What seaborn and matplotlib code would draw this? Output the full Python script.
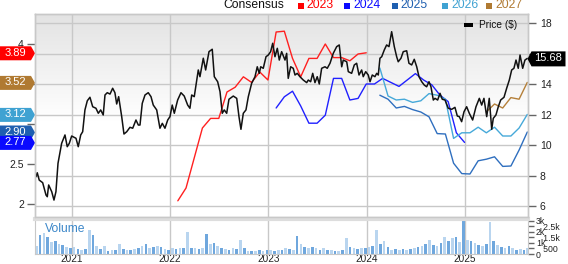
import numpy as np
import pandas as pd
import matplotlib
matplotlib.use("Agg")
import matplotlib.pyplot as plt
import seaborn as sns
from matplotlib.path import Path
from matplotlib.patches import Rectangle
from matplotlib.colors import LinearSegmentedColormap
from matplotlib.transforms import blended_transform_factory

# ---------------- data ----------------
price_t = [2020.637, 2020.650, 2020.670, 2020.705, 2020.739, 2020.752, 2020.766, 2020.797, 2020.820, 2020.840,
           2020.861, 2020.898, 2020.932, 2020.955, 2020.976, 2021.000, 2021.044, 2021.067, 2021.092, 2021.112,
           2021.135, 2021.159, 2021.186, 2021.214, 2021.247, 2021.271, 2021.295, 2021.321, 2021.339, 2021.362,
           2021.390, 2021.417, 2021.440, 2021.458, 2021.478, 2021.509, 2021.532, 2021.560, 2021.593, 2021.621,
           2021.654, 2021.678, 2021.695, 2021.718, 2021.746, 2021.779, 2021.807, 2021.830, 2021.865, 2021.898,
           2021.922, 2021.949, 2021.977, 2022.000, 2022.023, 2022.044, 2022.078, 2022.112, 2022.145, 2022.180,
           2022.203, 2022.221, 2022.247, 2022.272, 2022.288, 2022.305, 2022.339, 2022.363, 2022.397, 2022.430,
           2022.451, 2022.485, 2022.509, 2022.532, 2022.552, 2022.577, 2022.600, 2022.644, 2022.679, 2022.702,
           2022.722, 2022.746, 2022.773, 2022.797, 2022.831, 2022.865, 2022.888, 2022.908, 2022.923, 2022.949,
           2022.977, 2023.000, 2023.024, 2023.045, 2023.068, 2023.092, 2023.112, 2023.136, 2023.170, 2023.187,
           2023.203, 2023.228, 2023.254, 2023.272, 2023.295, 2023.322, 2023.356, 2023.391, 2023.407, 2023.431,
           2023.452, 2023.475, 2023.498, 2023.519, 2023.543, 2023.577, 2023.600, 2023.628, 2023.661, 2023.696,
           2023.722, 2023.747, 2023.763, 2023.798, 2023.814, 2023.848, 2023.875, 2023.899, 2023.923, 2023.950,
           2023.966, 2023.991, 2024.017, 2024.035, 2024.058, 2024.085, 2024.103, 2024.119, 2024.136, 2024.154,
           2024.180, 2024.204, 2024.228, 2024.255, 2024.282, 2024.306, 2024.322, 2024.350, 2024.373, 2024.408,
           2024.431, 2024.459, 2024.485, 2024.510, 2024.533, 2024.561, 2024.587, 2024.611, 2024.635, 2024.655,
           2024.679, 2024.696, 2024.723, 2024.747, 2024.770, 2024.798, 2024.831, 2024.866, 2024.899, 2024.923,
           2024.943, 2024.967, 2024.991, 2025.018, 2025.045, 2025.079, 2025.113, 2025.147, 2025.171, 2025.194,
           2025.222, 2025.248, 2025.273, 2025.289, 2025.316, 2025.340, 2025.364, 2025.398, 2025.425, 2025.452,
           2025.476, 2025.499, 2025.520, 2025.543, 2025.561, 2025.588, 2025.611, 2025.635]
price_v = [7.92, 8.18, 7.70, 7.53, 6.72, 6.61, 7.38, 6.94, 6.39, 6.94,
           8.80, 10.11, 10.66, 9.89, 10.11, 10.59, 10.44, 9.89, 10.66, 10.87,
           12.30, 12.90, 13.13, 12.51, 12.41, 12.08, 12.30, 11.97, 13.28, 13.43,
           13.34, 13.72, 13.43, 12.69, 13.17, 11.86, 10.72, 10.87, 11.16, 11.10,
           11.64, 11.31, 11.31, 12.73, 13.28, 13.43, 13.17, 12.62, 12.30, 11.10,
           11.42, 11.10, 11.64, 11.86, 12.62, 12.08, 12.95, 13.43, 13.21, 12.62,
           12.41, 13.28, 13.17, 14.26, 14.92, 14.48, 15.69, 14.92, 16.12, 16.28,
           14.48, 14.15, 13.50, 12.08, 12.30, 12.08, 13.00, 13.21, 13.06, 11.86,
           11.03, 12.08, 12.30, 13.17, 14.05, 14.48, 15.13, 14.70, 15.13, 15.03,
           15.79, 15.90, 16.12, 16.67, 15.79, 16.34, 15.57, 16.12, 15.57, 16.01,
           14.37, 15.13, 15.03, 14.59, 14.70, 14.48, 14.26, 14.09, 14.26, 14.15,
           14.70, 14.09, 14.48, 14.00, 15.03, 15.13, 15.03, 15.36, 16.01, 16.45,
           16.56, 15.13, 15.57, 15.46, 14.81, 14.70, 15.25, 15.36, 14.59, 14.92,
           14.48, 14.81, 14.59, 14.15, 14.59, 14.48, 14.70, 14.59, 15.69, 15.79,
           16.23, 16.56, 16.45, 17.43, 16.45, 15.79, 15.46, 15.69, 16.12, 16.18,
           15.36, 15.25, 15.62, 15.13, 14.48, 14.15, 13.93, 13.82, 14.15, 13.82,
           12.95, 13.06, 12.95, 13.39, 13.00, 12.95, 12.41, 12.34, 12.47, 11.90,
           11.86, 11.53, 12.18, 12.51, 12.08, 11.64, 12.51, 13.06, 12.62, 13.06,
           11.86, 13.06, 11.03, 11.75, 11.97, 12.51, 12.95, 13.13, 13.72, 14.26,
           14.92, 15.03, 15.57, 15.03, 15.90, 15.03, 15.57, 15.68]

# consensus EPS (monthly)
eps23_start = 2022.08
eps23 = [2.04, 2.20, 2.575, 2.95, 3.07, 3.07, 3.40, 3.46, 3.59, 3.52, 3.65, 3.55,
         4.15, 4.16, 3.82, 3.59, 3.82, 3.82, 4.00, 3.83, 3.83, 3.79, 3.875, 3.89]
eps24_start = 2023.08
eps24 = [3.20, 3.34, 3.41, 3.225, 3.01, 3.01, 3.11, 3.57, 3.57, 3.30, 3.32, 3.50,
         3.50, 3.57, 3.52, 3.47, 3.55, 3.63, 3.55, 3.49, 3.36, 3.28, 2.89, 2.77]
eps25_start = 2024.135
eps25 = [3.36, 3.31, 3.20, 3.22, 3.18, 3.15, 3.09, 2.88, 2.875, 2.51, 2.38, 2.375,
         2.54, 2.56, 2.59, 2.47, 2.475, 2.675, 2.90]
eps26_start = 2024.135
eps26 = [3.70, 3.35, 3.30, 3.31, 3.27, 3.29, 3.38, 3.36, 3.31, 2.82, 2.89, 2.89,
         2.96, 2.89, 2.96, 2.85, 2.85, 2.95, 3.12]
eps27_start = 2025.218
eps27 = [3.15, 3.25, 3.20, 3.33, 3.31, 3.52]

# biweekly volume
vol_start = 2020.64
volume = [700, 1700, 1900, 1500, 1100, 1200, 900, 800, 600, 500, 650, 450, 400,
          450, 2200, 1700, 700, 450, 700, 300, 350, 400, 900, 450, 400, 350,
          450, 500, 700, 900, 500, 600, 700, 600, 450, 400, 500, 450, 500,
          500, 2000, 500, 500, 450, 550, 1800, 900, 1000, 700, 500, 450, 400,
          500, 450, 1300, 500, 300, 250, 300, 350, 300, 400, 350, 300, 400,
          400, 500, 450, 400, 1600, 900, 600, 550, 600, 500, 400, 500, 350,
          400, 300, 300, 350, 1400, 600, 500, 450, 500, 550, 600, 700, 2200,
          900, 1200, 600, 400, 450, 400, 450, 400, 450, 500, 600, 700, 900,
          1300, 800, 700, 1000, 1500, 1200, 1400, 1500, 1100, 3000, 1300, 1200, 1000,
          800, 700, 900, 2900, 1200, 800, 600, 500, 700, 500, 400, 450, 400, 500]

years = [2021, 2022, 2023, 2024, 2025]
price_ticks = [6, 8, 10, 12, 14, 16, 18]
price_labels = ["6", "8", "10", "12", "14", "", "18"]
eps_ticks = [2, 2.5, 3, 3.5, 4]
eps_labels = ["2", "2.5", "", "", "4"]
vol_ticks = [0, 500, 1000, 1500, 2000, 2500, 3000]
vol_labels = ["0", "   500", "1k", "   1.5k", "2k", "   2.5k", "3k"]

series = [("2023", eps23_start, eps23, "#ff2020", "#ff0000"),
          ("2024", eps24_start, eps24, "#2020ff", "#0a0aff"),
          ("2025", eps25_start, eps25, "#2f6fbf", "#1f5fb0"),
          ("2026", eps26_start, eps26, "#46a9d9", "#3fa2d2"),
          ("2027", eps27_start, eps27, "#b5803a", "#b07a32")]

# ---------------- style ----------------
sns.set_style("white")
plt.rcParams['font.family'] = ['Liberation Sans', 'DejaVu Sans']

W, H = 568, 264
fig = plt.figure(figsize=(W / 100, H / 100), dpi=100)
fx = lambda x: x / W
fy = lambda y: 1 - y / H

L, R = 35, 527.5
ax = fig.add_axes([fx(L), fy(217), fx(R - L), (217 - 14) / H])
axv = fig.add_axes([fx(L), fy(254), fx(R - L), (254 - 219) / H])

XMIN, XMAX = 2020.627, 2025.637
grid_c = "#c8c8c8"

# gradient background
grad = np.clip(np.linspace(0, 1.9, 256), 0, 1).reshape(-1, 1)
cmap = LinearSegmentedColormap.from_list("g", ["#e3e3e3", "#ffffff"])
ax.imshow(grad, cmap=cmap, extent=[0, 1, 0, 1], transform=ax.transAxes,
          aspect="auto", zorder=-10, vmin=0, vmax=1)

ax2 = ax.twinx()
ax.set_xlim(XMIN, XMAX)
ax.set_ylim(1.8375, 4.375)
ax2.set_ylim(5.28, 18.59)

# grid lines
ax.set_xticks(years)
ax.grid(axis="x", color=grid_c, lw=1, zorder=-5)
ax.grid(axis="y", visible=False)
ax2.grid(False)
btr = blended_transform_factory(ax.transAxes, ax2.transData)
for t in price_ticks:
    ax.plot([0, 1], [t, t], transform=btr, color=grid_c, lw=1, zorder=-5)

# consensus lines
for name, start, vals, lc, bc in series:
    n = len(vals)
    t = start + np.arange(n) / 12
    df = pd.DataFrame({"t": t, "eps": vals})
    sns.lineplot(data=df, x="t", y="eps", ax=ax, color=lc, lw=1.0,
                 estimator=None, sort=False, legend=False)

# price line
dfp = pd.DataFrame({"t": price_t, "price": price_v})
sns.lineplot(data=dfp, x="t", y="price", ax=ax2, color="#111111", lw=1.1,
             estimator=None, sort=False, legend=False)

ax.set_xlim(XMIN, XMAX)
ax.set_ylim(1.8375, 4.375)
ax2.set_ylim(5.28, 18.59)
ax.set_xlabel("")
ax.set_ylabel("")
ax2.set_xlabel("")
ax2.set_ylabel("")

ax.set_yticks(eps_ticks)
ax.set_yticklabels(eps_labels)
ax2.set_yticks(price_ticks)
ax2.set_yticklabels(price_labels)
ax.tick_params(axis="x", length=0, labelbottom=False)
ax.tick_params(axis="y", left=True, direction="out", length=6, width=1,
               color="#666666", labelsize=7.5, pad=2, labelcolor="#222222")
ax2.tick_params(axis="y", right=True, direction="out", length=6, width=1,
                color="#666666", labelsize=7.5, pad=3, labelcolor="#222222")
for a in (ax, ax2):
    for s in a.spines.values():
        s.set_color(grid_c)
        s.set_linewidth(1)


# badge shapes
def pent_right(x0, y0, width, height, mutation_size):
    cx, cy = x0 + width / 2, y0 + height / 2 - 0.5
    hw, hh, tip = 15.5, 7, 4
    v = [(cx - hw, cy - hh), (cx + hw, cy - hh), (cx + hw + tip, cy),
         (cx + hw, cy + hh), (cx - hw, cy + hh), (cx - hw, cy - hh)]
    return Path(v, closed=True)


def pent_left(x0, y0, width, height, mutation_size):
    cx, cy = x0 + width / 2, y0 + height / 2 - 0.5
    hw, hh, tip = 17, 7.5, 4
    v = [(cx - hw, cy - hh), (cx + hw, cy - hh), (cx + hw, cy + hh),
         (cx - hw, cy + hh), (cx - hw - tip, cy), (cx - hw, cy - hh)]
    return Path(v, closed=True)


badge_order = [series[0], series[4], series[3], series[2], series[1]]
for name, start, vals, lc, bc in badge_order:
    ax.annotate(f"{vals[-1]:.2f}", xy=(0, vals[-1]), xycoords=ax.get_yaxis_transform(),
                xytext=(-19.5, 0), textcoords="offset pixels", ha="center", va="center",
                color="white", fontsize=8, annotation_clip=False, zorder=20,
                bbox=dict(boxstyle=pent_right, fc=bc, ec="none"))

ax2.annotate(f"{price_v[-1]:.2f}", xy=(1, price_v[-1]), xycoords=ax2.get_yaxis_transform(),
             xytext=(21, 0), textcoords="offset pixels", ha="center", va="center",
             color="white", fontsize=8, annotation_clip=False, zorder=20,
             bbox=dict(boxstyle=pent_left, fc="black", ec="none"))

# ---------------- volume ----------------
vt = vol_start + np.arange(len(volume)) / 26
cols = ["#b9d5ef" if i % 2 == 0 else "#6fa7dd" for i in range(len(volume))]
axv.bar(vt, volume, width=0.7 / 26, color=cols, linewidth=0, zorder=2)
axv.set_xlim(XMIN, XMAX)
axv.set_ylim(0, 3150)
axv.set_xticks(years)
axv.set_xticklabels([str(y) for y in years])
axv.grid(axis="x", color=grid_c, lw=1, zorder=0)
axv.grid(axis="y", visible=False)
axv.yaxis.tick_right()
axv.set_yticks(vol_ticks)
axv.set_yticklabels(vol_labels)
axv.tick_params(axis="y", right=True, left=False, direction="out", length=4, width=1,
                color="#666666", labelsize=6.3, pad=2, labelcolor="#222222")
axv.tick_params(axis="x", length=0, labelsize=7.2, pad=0.3, labelcolor="#222222")
for s in axv.spines.values():
    s.set_color(grid_c)
axv.spines["top"].set_color("#dddddd")
axv.spines["top"].set_linewidth(3)
axv.set_facecolor("white")
fig.text(fx(45), fy(229), "Volume", fontsize=8.7, color="#3b87c9",
         ha="left", va="center")

# ---------------- legends ----------------
ty = fy(5.5)
fig.text(fx(223), ty, "Consensus", fontsize=8.7, color="#111111", ha="left", va="center")
legend_pos = {"2023": (298, 306), "2024": (344, 353), "2025": (392, 400),
              "2026": (442, 451), "2027": (486, 495)}
for name, start, vals, lc, bc in series:
    sx, tx = legend_pos[name]
    fig.add_artist(Rectangle((fx(sx), fy(8.5)), 6 / W, 6 / H, transform=fig.transFigure,
                             fc=bc, ec="none"))
    fig.text(fx(tx), ty, name, fontsize=8.7, color=bc, ha="left", va="center")

fig.add_artist(Rectangle((fx(464), fy(27)), 9 / W, 4 / H, transform=fig.transFigure,
                         fc="black", ec="none", zorder=30))
fig.text(fx(479), fy(25), "Price ($)", fontsize=7.3, color="#111111", ha="left",
         va="center", zorder=30)

fig.savefig("out.png", dpi=100)
